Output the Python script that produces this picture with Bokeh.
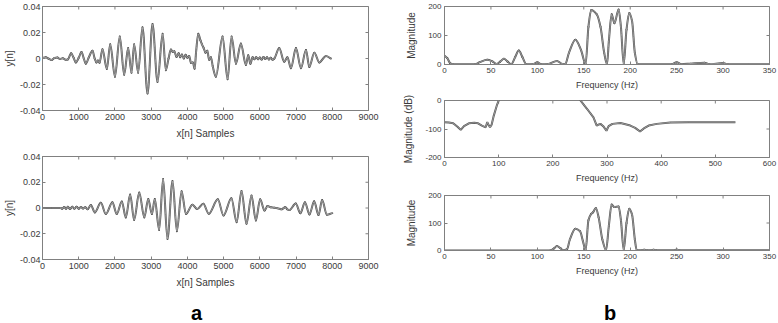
import math
from bokeh.plotting import figure
from bokeh.models import Range1d, FixedTicker, Div
from bokeh.layouts import row, column
from bokeh.embed import file_html
from bokeh.resources import INLINE

FONT = "Liberation Sans"
TXT = "#3a3a3a"
FRAME = "#808080"

# ---------------- data ----------------
sig_x_ticks = [0, 1000, 2000, 3000, 4000, 5000, 6000, 7000, 8000, 9000]
sig_x_labels = ["0", "1000", "2000", "3000", "4000", "5000", "6000", "7000", "8000", "9000"]
sig_y_ticks = [-0.04, -0.02, 0, 0.02, 0.04]
sig_y_labels = ["-0.04", "-0.02", "0", "0.02", "0.04"]

top_wave_x = [0, 90, 170, 250, 330, 410, 480, 560, 640, 700, 790, 860, 920, 1000, 1077,
              1140, 1196, 1280, 1380, 1440, 1490, 1530, 1575, 1656, 1776, 1870, 2000, 2133,
              2255, 2365, 2457, 2530, 2640, 2760, 2900, 3037, 3175, 3316, 3405, 3480, 3545,
              3600, 3640, 3700, 3760, 3800, 3850, 3900, 3950, 4000, 4050, 4100, 4150, 4200,
              4240, 4300, 4360, 4400, 4450, 4500, 4550, 4600, 4650, 4700, 4786, 4971, 5110,
              5220, 5340, 5477, 5615, 5680, 5740, 5800, 5850, 5900, 5950, 6000, 6050, 6100,
              6150, 6200, 6250, 6300, 6350, 6400, 6535, 6674, 6760, 6860, 6997, 7135, 7274,
              7366, 7504, 7642, 7826, 7960]
top_wave_y = [0.0005, 0.0009, -0.0002, -0.0011, 0.0004, 0.0008, -0.0004, 0.0002, -0.0010,
              -0.0008, 0.0040, 0.0005, -0.0030, 0.0005, 0.0050, 0.0000, -0.0040, 0.0010,
              0.0060, 0.0000, -0.0030, -0.0015, -0.0032, 0.0072, -0.0080, 0.0110, -0.0140,
              0.0170, -0.0125, 0.0080, -0.0110, 0.0110, -0.0110, 0.0240, -0.0270, 0.0265,
              -0.0180, 0.0190, -0.0090, 0.0000, 0.0070, 0.0050, 0.0055, 0.0012, 0.0040,
              0.0010, 0.0030, 0.0000, 0.0028, 0.0005, 0.0020, -0.0035, -0.0030, -0.0078,
              0.0050, 0.0190, 0.0140, 0.0110, 0.0080, 0.0045, 0.0060, -0.0010, 0.0010,
              -0.0060, -0.0140, 0.0170, -0.0160, 0.0170, -0.0040, 0.0115, -0.0050, 0.0025,
              -0.0040, 0.0010, -0.0005, 0.0010, -0.0005, 0.0008, -0.0008, 0.0012, -0.0003,
              0.0010, -0.0008, 0.0005, -0.0010, 0.0000, 0.0080, -0.0025, 0.0010, -0.0075,
              0.0080, -0.0075, 0.0065, -0.0065, 0.0045, -0.0030, 0.0020, 0.0000]

bot_wave_x = [0, 500, 540, 600, 650, 700, 760, 820, 880, 940, 1000, 1060, 1120, 1180, 1242,
              1334, 1445, 1610, 1750, 1930, 2050, 2190, 2300, 2420, 2530, 2670, 2810, 2920,
              3020, 3100, 3220, 3330, 3450, 3590, 3710, 3840, 3960, 4140, 4270, 4440, 4590,
              4840, 4997, 5215, 5360, 5494, 5632, 5770, 5890, 6009, 6130, 6210, 6300, 6400,
              6500, 6600, 6650, 6700, 6760, 6820, 6990, 7120, 7245, 7370, 7500, 7620, 7720,
              7850, 8000]
bot_wave_y = [0.0, 0.0, -0.0005, 0.0008, -0.0006, 0.0010, -0.0008, 0.0010, -0.0006, 0.0010,
              -0.0005, 0.0008, -0.0004, 0.0006, -0.0010, 0.0023, -0.0034, 0.0040, -0.0047,
              0.0044, -0.0047, 0.0050, -0.0073, 0.0104, -0.0093, 0.0120, -0.0073, 0.0070,
              -0.0047, 0.0070, -0.0170, 0.0226, -0.0240, 0.0210, -0.0180, 0.0130, -0.0047,
              0.0026, -0.0008, 0.0033, -0.0045, 0.0068, -0.0058, 0.0075, -0.0110, 0.0133,
              -0.0123, 0.0098, -0.0097, 0.0068, -0.0020, 0.0015, 0.0005, 0.0002, -0.0003,
              -0.0010, -0.0002, 0.0008, -0.0010, -0.0015, 0.0035, -0.0040, 0.0045, -0.0050,
              0.0052, -0.0055, 0.0062, -0.0052, -0.0040]

mag_x_ticks = [0, 50, 100, 150, 200, 250, 300, 350]
mag_x_labels = ["0", "50", "100", "150", "200", "250", "300", "350"]
mag_y_ticks = [0, 100, 200]
mag_y_labels = ["0", "100", "200"]
db_x_ticks = [0, 100, 200, 300, 400, 500, 600]
db_x_labels = ["0", "100", "200", "300", "400", "500", "600"]
db_y_ticks = [-200, -100, 0]
db_y_labels = ["-200", "-100", "0"]

spec_in_hz = [0, 3, 6, 9, 33, 38, 46, 52, 56, 60, 64, 68, 72, 76, 80, 84, 88, 96, 100, 104,
              112, 121, 127, 130, 134, 141, 147, 152, 155, 158, 164, 168, 172, 175, 177, 180,
              183, 187.5, 190, 193, 196, 199, 202, 205, 208, 245, 250, 255, 265, 280, 285,
              300, 305, 350]
spec_in_mag = [30, 22, 5, 1, 1, 8, 16, 10, 2, 10, 20, 10, 1, 25, 48, 25, 1, 2, 8, 1,
               2, 12, 2, 1, 40, 85, 50, 2, 130, 188, 173, 130, 40, 1, 80, 173,
               142, 190, 130, 1, 120, 178, 150, 40, 1, 1, 8, 1, 3, 6, 1,
               5, 1, 1]

filt_hz = [0, 8, 16, 24, 30, 36, 45, 55, 62, 69, 76, 79, 82, 84, 87, 91, 97, 100, 104,
           246, 251, 263, 275, 281, 285, 288, 293, 299, 303, 310, 325, 343, 352, 361, 368,
           377, 392, 417, 450, 537]
filt_db = [-76, -77, -80, -92, -103, -90, -80, -78, -80, -88, -94, -76, -88, -94, -85, -53,
           -15, 0, 20, 20, 0, -29, -59, -88, -84, -82, -90, -106, -90, -82, -79, -88, -96,
           -109, -98, -88, -82, -77, -76, -76]

spec_out_hz = [0, 114, 118, 121, 125, 128, 132, 135, 141, 146, 149, 152, 155, 158, 160, 163,
               166, 170, 174, 177, 180, 183, 187.5, 190, 193, 196, 199, 202, 205, 207, 213,
               215, 218, 223, 225, 228, 248, 250, 253, 350]
spec_out_mag = [0, 0, 8, 16, 8, 1, 5, 40, 79, 70, 35, 2, 110, 133, 139, 155,
                120, 40, 1, 90, 167, 158, 160, 110, 1, 100, 152, 130, 40, 1, 1,
                3, 1, 1, 3, 1, 1, 4, 1, 1]

panel_letters = ["a", "b"]


# ---------------- helpers ----------------
def style_axis(ax, ticks, labels, fs, lab_fs, lab_standoff, tick_standoff):
    ax.ticker = FixedTicker(ticks=ticks)
    ax.major_label_overrides = dict(zip(ticks, labels))
    ax.major_tick_in = 3
    ax.major_tick_out = 0
    ax.minor_tick_line_color = None
    ax.axis_line_color = FRAME
    ax.major_tick_line_color = FRAME
    ax.major_label_text_font = FONT
    ax.major_label_text_font_size = fs
    ax.major_label_text_color = TXT
    ax.major_label_standoff = tick_standoff
    ax.axis_label_text_font = FONT
    ax.axis_label_text_font_size = lab_fs
    ax.axis_label_text_font_style = "normal"
    ax.axis_label_text_color = TXT
    ax.axis_label_standoff = lab_standoff


def mirror_ticks(p, xr, yr, xticks, yticks):
    # ticks on the top and right edges of the box (outer half of each dash is clipped)
    p.scatter(xticks, [yr[1]] * len(xticks), marker="dash", size=6, angle=math.pi / 2,
              line_color=FRAME, line_width=1)
    p.scatter([xr[1]] * len(yticks), yticks, marker="dash", size=6,
              line_color=FRAME, line_width=1)


def panel(width, height, xr, yr, xt, xl, yt, yl, xlabel, ylabel, borders,
          fs, xlab_fs, ylab_fs, ylab_standoff, xlab_standoff, ytick_standoff):
    p = figure(width=width, height=height, x_range=Range1d(*xr), y_range=Range1d(*yr),
               output_backend="svg", toolbar_location=None,
               min_border_left=borders[0], min_border_right=borders[1],
               min_border_top=borders[2], min_border_bottom=borders[3])
    p.grid.visible = False
    p.outline_line_color = FRAME
    p.background_fill_color = "white"
    p.border_fill_color = "white"
    p.xaxis.axis_label = xlabel
    p.yaxis.axis_label = ylabel
    style_axis(p.xaxis[0], xt, xl, fs, xlab_fs, xlab_standoff, 3)
    style_axis(p.yaxis[0], yt, yl, fs, ylab_fs, ylab_standoff, ytick_standoff)
    mirror_ticks(p, xr, yr, xt, yt)
    return p


def smooth_segments(xs, ys):
    # monotone cubic (Hermite) pieces through the read points, as bezier segments
    n = len(xs)
    d = [(ys[i + 1] - ys[i]) / (xs[i + 1] - xs[i]) for i in range(n - 1)]
    m = [d[0]] + [0.0] * (n - 2) + [d[-1]]
    for i in range(1, n - 1):
        if d[i - 1] * d[i] > 0:
            m[i] = 2.0 / (1.0 / d[i - 1] + 1.0 / d[i])
    seg = dict(x0=[], y0=[], x1=[], y1=[], cx0=[], cy0=[], cx1=[], cy1=[])
    for i in range(n - 1):
        h = (xs[i + 1] - xs[i]) / 3.0
        seg["x0"].append(xs[i]); seg["y0"].append(ys[i])
        seg["x1"].append(xs[i + 1]); seg["y1"].append(ys[i + 1])
        seg["cx0"].append(xs[i] + h); seg["cy0"].append(ys[i] + m[i] * h)
        seg["cx1"].append(xs[i + 1] - h); seg["cy1"].append(ys[i + 1] - m[i + 1] * h)
    return seg


def trace(p, xs, ys):
    seg = smooth_segments(xs, ys)
    p.bezier(line_color="#555555", line_width=2.0, line_cap="round", **seg)
    p.bezier(line_color="#ababab", line_width=0.8, line_cap="round", **seg)


def trace_straight(p, xs, ys):
    p.line(xs, ys, line_color="#555555", line_width=2.0)
    p.line(xs, ys, line_color="#ababab", line_width=0.8)


# ---------------- left column ----------------
L1 = panel(390, 148, (0, 9000), (-0.04, 0.04), sig_x_ticks, sig_x_labels, sig_y_ticks,
           sig_y_labels, "x[n] Samples", "y[n]", (41, 22, 6, 38), "9px", "10px", "10px", 2, 5, 2)
trace(L1, top_wave_x, top_wave_y)

L2 = panel(390, 155, (0, 9000), (-0.04, 0.04), sig_x_ticks, sig_x_labels, sig_y_ticks,
           sig_y_labels, "x[n] Samples", "y[n]", (41, 22, 8, 44), "9px", "10px", "10px", 2, 5, 2)
trace(L2, bot_wave_x, bot_wave_y)

# ---------------- right column ----------------
R1 = panel(388, 92, (0, 350), (0, 200), mag_x_ticks, mag_x_labels, mag_y_ticks,
           mag_y_labels, "Frequency (Hz)", "Magnitude", (54, 9, 6, 28), "8px", "9px", "10px", 8, 4, 3)
trace(R1, spec_in_hz, spec_in_mag)

R2 = panel(388, 93, (0, 600), (-200, 0), db_x_ticks, db_x_labels, db_y_ticks,
           db_y_labels, "Frequency (Hz)", "Magnitude (dB)", (54, 9, 8, 28), "8px", "9px", "10px", 8, 4, 3)
trace_straight(R2, filt_hz, filt_db)

R3 = panel(388, 118, (0, 350), (0, 200), mag_x_ticks, mag_x_labels, mag_y_ticks,
           mag_y_labels, "Frequency (Hz)", "Magnitude", (54, 9, 10, 53), "8px", "9px", "10px", 8, 4, 3)
trace(R3, spec_out_hz, spec_out_mag)

# ---------------- panel letters ----------------
letter_style = {"font-family": FONT, "font-size": "20px", "font-weight": "bold",
                "color": "black", "line-height": "20px", "text-align": "left",
                "margin": "0", "padding": "0"}
divA = Div(text=panel_letters[0], width=390, height=20,
           styles=dict(letter_style, **{"text-indent": "191px"}))
divB = Div(text=panel_letters[1], width=388, height=20,
           styles=dict(letter_style, **{"text-indent": "214px"}))

page = column(row(column(L1, L2), column(R1, R2, R3)), row(divA, divB))
open("out.html", "w").write(file_html(page, INLINE))
